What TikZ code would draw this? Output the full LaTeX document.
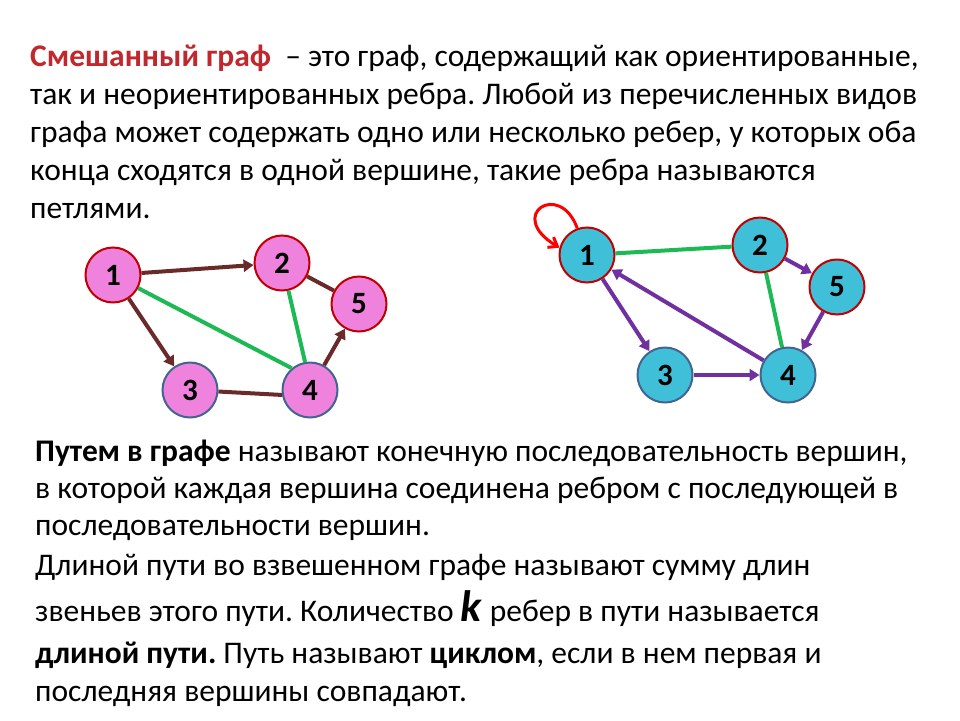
\documentclass[tikz,border=0pt]{standalone}
\usepackage{fontspec}
\setmainfont{Carlito}
\frenchspacing
\usetikzlibrary{arrows.meta}
\definecolor{tred}{HTML}{C0282D}
\definecolor{pinkf}{HTML}{EE82DC}
\definecolor{cyanf}{HTML}{40C0D8}
\definecolor{rbord}{HTML}{C00000}
\definecolor{bbord}{HTML}{41658F}
\definecolor{brownl}{HTML}{6B2A2A}
\definecolor{greenl}{HTML}{1DB954}
\definecolor{purpl}{HTML}{7030A0}
\begin{document}
\begin{tikzpicture}[x=1pt,y=-1pt,
 txt/.style={anchor=base west,inner sep=0,font=\fontsize{31.5}{36}\selectfont},
 vtx/.style={circle,minimum size=55pt,inner sep=0,line width=2pt,font=\bfseries\fontsize{31}{31}\selectfont},
 rv/.style={draw=rbord},
 bv/.style={draw=bbord},
 arr/.style={line width=4pt,-{Triangle[length=10pt,width=12pt]}},
 ln/.style={line width=4pt}]
\useasboundingbox (0,0) rectangle (960,720);
% top text
\node[txt] (t1) at (30,66) {\textcolor{tred}{\textbf{Смешанный граф}}\ \ – это граф, содержащий как ориентированные,};
\node[txt] (t2) at (30,104) {так и неориентированных ребра. Любой из перечисленных видов};
\node[txt] (t3) at (30,142) {графа может содержать одно или несколько ребер, у которых оба};
\node[txt] (t4) at (30,180) {конца сходятся в одной вершине, такие ребра называются};
\node[txt] (t5) at (30,218) {петлями.};
% left graph
\node[vtx,rv,fill=pinkf] (a1) at (113,275) {1};
\node[vtx,rv,fill=pinkf] (a2) at (282,263) {2};
\node[vtx,rv,fill=pinkf] (a5) at (359,304) {5};
\node[vtx,bv,fill=pinkf] (a3) at (190,390) {3};
\node[vtx,bv,fill=pinkf] (a4) at (310,390) {4};
\draw[arr,brownl] (a1) -- (a2);
\draw[arr,brownl] (a1) -- (a3);
\draw[ln,brownl] (a2) -- (a5);
\draw[ln,brownl] (a3) -- (a4.190);
\draw[arr,brownl] (a4) -- (a5);
\draw[ln,greenl] (a1) -- (a4.130);
\draw[ln,greenl] (a2) -- (a4.100);
% right graph
\node[vtx,rv,fill=cyanf] (b1) at (587,255) {1};
\node[vtx,rv,fill=cyanf] (b2) at (760,245) {2};
\node[vtx,rv,fill=cyanf] (b5) at (837,287) {5};
\node[vtx,bv,fill=cyanf] (b3) at (665,375) {3};
\node[vtx,bv,fill=cyanf] (b4) at (788,375) {4};
\draw[ln,greenl] (b1) -- (b2);
\draw[ln,greenl] (b2) -- (b4);
\draw[arr,purpl] (b2) -- (b5);
\draw[arr,purpl] (b5) -- (b4);
\draw[arr,purpl] (b1) -- (b3);
\draw[arr,purpl] (b3) -- (b4);
\draw[arr,purpl] (b4) -- (b1);
\draw[red,line width=3pt,-{Straight Barb[length=8pt,width=12pt]}] (b1.110) .. controls (560,180) and (505,215) .. (b1.165);
% bottom text
\node[txt] (u1) at (35,461) {\textbf{Путем в графе} называют конечную последовательность вершин,};
\node[txt] (u2) at (35,498) {в которой каждая вершина соединена ребром с последующей в};
\node[txt] (u3) at (35,535) {последовательности вершин.};
\node[txt] (u4) at (35,575) {Длиной пути во взвешенном графе называют сумму длин};
\node[txt] (u5) at (35,621) {звеньев этого пути. Количество {\fontsize{44}{44}\selectfont\textbf{\textit{k}}} ребер в пути называется};
\node[txt] (u6) at (35,663) {\textbf{длиной пути.} Путь называют \textbf{циклом}, если в нем первая и};
\node[txt] (u7) at (35,701) {последняя вершины совпадают.};
\end{tikzpicture}
\end{document}
